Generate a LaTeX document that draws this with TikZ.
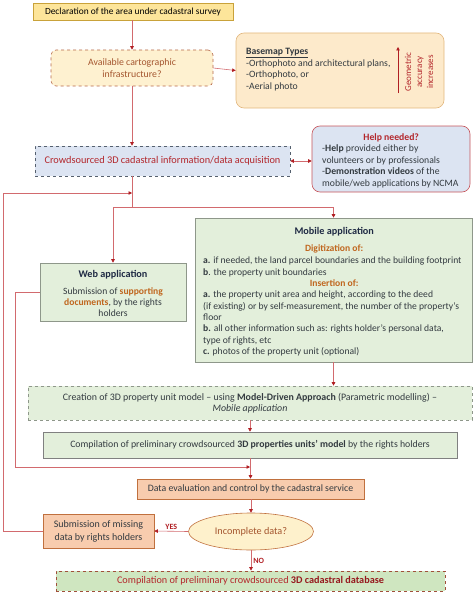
\documentclass[tikz,border=0pt]{standalone}
\usepackage{fontspec}
\setmainfont{Carlito}
\usetikzlibrary{arrows.meta,shapes.geometric,calc}
\definecolor{lineC}{HTML}{D26A6E}
\definecolor{tipC}{HTML}{B01E23}
\definecolor{declF}{HTML}{FDE59A}
\definecolor{declD}{HTML}{C9A23A}
\definecolor{avF}{HTML}{FEF1D0}
\definecolor{avD}{HTML}{B5684A}
\definecolor{avT}{HTML}{A4552E}
\definecolor{bmF}{HTML}{FDEACB}
\definecolor{bmD}{HTML}{E2B77E}
\definecolor{blF}{HTML}{DCE4F2}
\definecolor{blD}{HTML}{55606E}
\definecolor{hpD}{HTML}{C7545A}
\definecolor{redT}{HTML}{B3262B}
\definecolor{grF}{HTML}{E3EFDB}
\definecolor{grD}{HTML}{8E978A}
\definecolor{navy}{HTML}{1F2A44}
\definecolor{brT}{HTML}{C0661E}
\definecolor{txt}{HTML}{333A40}
\definecolor{saF}{HTML}{F8CCAE}
\definecolor{saD}{HTML}{C0703E}
\definecolor{elF}{HTML}{FEF1CC}
\definecolor{fnF}{HTML}{CFE6C0}
\definecolor{fnD}{HTML}{A0503A}
\begin{document}
\begin{tikzpicture}[x=1pt,y=-1pt,
  every node/.style={font=\fontsize{9.8}{11.3}\selectfont, text=txt, inner sep=2pt},
  conn/.style={draw=lineC, line width=0.6pt, -{Triangle[length=3.5pt,width=3.5pt,color=tipC]}},
  plain/.style={draw=lineC, line width=0.6pt},
  declbox/.style={draw=declD, fill=declF, line width=0.6pt},
  avbox/.style={draw=avD, fill=avF, line width=0.6pt, dashed, rounded corners=5pt},
  bmbox/.style={draw=bmD, fill=bmF, line width=0.6pt, rounded corners=8pt},
  blbox/.style={draw=blD, fill=blF, line width=0.6pt, dashed},
  hpbox/.style={draw=hpD, fill=blF, line width=0.6pt, rounded corners=8pt},
  grbox/.style={draw=grD, fill=grF, line width=0.6pt},
  sabox/.style={draw=saD, fill=saF, line width=0.6pt},
  fnbox/.style={draw=fnD, fill=fnF, line width=0.7pt, dashed},
  lbl/.style={font=\fontsize{8}{9}\selectfont\bfseries, text=tipC}
]
\useasboundingbox (0,0) rectangle (474,594);

% nodes
\node[declbox, minimum width=200pt, minimum height=17pt, font=\fontsize{9.4}{11}\selectfont] (decl) at (133,11.5)
  {\textcolor{black}{Declaration of the area under cadastral survey}};
\node[avbox, minimum width=162pt, minimum height=36pt, align=center, text=avT, font=\fontsize{9.8}{12}\selectfont] (avail) at (132,68)
  {Available cartographic\\infrastructure?};
\node[bmbox, minimum width=208pt, minimum height=75pt] (basemap) at (340,70.5) {};
\node[anchor=north west, align=left, inner sep=0pt, font=\fontsize{9.7}{11.7}\selectfont] (bmtext) at (246,48)
  {\underline{\textbf{Basemap Types}}\\-Orthophoto and architectural plans,\\-Orthophoto, or\\-Aerial photo};
\coordinate (gb) at (398,93);
\coordinate (gt) at (398,47);
\draw[draw=tipC, line width=0.7pt, -{Triangle[length=3.5pt,width=3.5pt,color=tipC]}] (gb) -- (gt);
\node[rotate=90, align=center, text=redT, font=\fontsize{9}{11}\selectfont] (geo) at (419,72)
  {Geometric\\accuracy\\increases};

\node[blbox, minimum width=255pt, minimum height=30pt, text=redT, font=\fontsize{10.3}{12}\selectfont] (crowd) at (162.5,161)
  {Crowdsourced 3D cadastral information/data acquisition};
\node[hpbox, minimum width=158pt, minimum height=66pt] (help) at (391,159) {};
\node[anchor=north west, align=left, inner sep=0pt, font=\fontsize{9.7}{11.5}\selectfont] (hptext) at (322,133)
  {\makebox[138pt][c]{\textcolor{redT}{\textbf{Help needed?}}}\\
   -\textbf{Help} provided either by\\volunteers or by professionals\\
   -\textbf{Demonstration videos} of the\\mobile/web applications by NCMA};

\node[grbox, minimum width=146pt, minimum height=58pt] (web) at (113,292) {};
\node[align=center, inner sep=0pt, font=\fontsize{9.6}{11}\selectfont] (webtext) at (113,293)
  {\textcolor{navy}{\fontsize{10.2}{11}\selectfont\textbf{Web application}}\\[6pt]
   Submission of \textcolor{brT}{\textbf{supporting}}\\\textcolor{brT}{\textbf{documents}}, by the rights\\holders};

\node[grbox, minimum width=277pt, minimum height=144pt] (mobile) at (333.5,290) {};
\node[anchor=north west, align=left, inner sep=0pt, font=\fontsize{9.6}{11.3}\selectfont] (mobtext) at (203,227)
  {\makebox[262pt][c]{\textcolor{navy}{\fontsize{10.2}{11}\selectfont\textbf{Mobile application}}}\\[5.5pt]
   \makebox[262pt][c]{\textcolor{brT}{\textbf{Digitization of:}}}\\[1.5pt]
   \textbf{a.} if needed, the land parcel boundaries and the building footprint\\
   \textbf{b}. the property unit boundaries\\
   \makebox[262pt][c]{\textcolor{brT}{\textbf{Insertion of:}}}\\
   \textbf{a.} the property unit area and height, according to the deed\\
   (if existing) or by self-measurement, the number of the property's\\
   floor\\
   \textbf{b.} all other information such as: rights holder's personal data,\\
   type of rights, etc\\
   \textbf{c.} photos of the property unit (optional)};

\node[grbox, dashed, minimum width=444pt, minimum height=34pt, align=center, font=\fontsize{9.9}{11.3}\selectfont] (creation) at (250,403)
  {Creation of 3D property unit model -- using \textbf{Model-Driven Approach} (Parametric modelling) --\\\textit{Mobile application}};
\node[grbox, draw=gray, minimum width=414pt, minimum height=26pt] (compil) at (250,445)
  {Compilation of preliminary crowdsourced \textbf{3D properties units' model} by the rights holders};
\node[sabox, minimum width=227pt, minimum height=20pt] (eval) at (250.5,489)
  {Data evaluation and control by the cadastral service};
\node[ellipse, draw=saD, fill=elF, line width=0.6pt, minimum width=125pt, minimum height=37pt, inner sep=0pt, text=avT, font=\fontsize{10.2}{12}\selectfont] (inc) at (251,531.5)
  {Incomplete data?};
\node[sabox, minimum width=111pt, minimum height=34pt, align=center, font=\fontsize{10}{13}\selectfont] (subm) at (98.5,531)
  {Submission of missing\\data by rights holders};
\node[fnbox, minimum width=389pt, minimum height=20pt, text=redT, font=\fontsize{10.2}{12}\selectfont] (final) at (250.5,581)
  {Compilation of preliminary crowdsourced \textcolor{tipC!85!black}{\textbf{3D cadastral database}}};

% connectors
\coordinate (j) at (132,207);
\coordinate (lp) at (3,193);
\coordinate (wl) at (15,292);
\coordinate (m) at (250,467);
\draw[conn] (decl.south -| avail.north) -- (avail.north);
\draw[conn] (avail.east) -- (basemap.west);
\draw[conn] (avail.south) -- (avail.south |- crowd.north);
\draw[draw=lineC, line width=0.6pt, {Triangle[length=3.5pt,width=3.5pt,color=tipC]}-{Triangle[length=3.5pt,width=3.5pt,color=tipC]}] (crowd.east) -- (crowd.east -| help.west);
\draw[plain] (crowd.south -| j) -- (j);
\draw[conn] (j) -| (web.north);
\draw[conn] (j) -| (mobile.north);
\draw[conn] (subm.west) -| (lp) -- (lp -| j);
\draw[conn] (web.west) -- (wl) |- (m);
\draw[conn] (mobile.south) -- (mobile.south |- creation.north);
\draw[conn] (creation.south -| compil.north) -- (compil.north);
\draw[conn] (compil.south -| eval.north) -- (eval.north);
\draw[conn] (eval.south -| inc.north) -- (inc.north);
\draw[conn] (inc.west) -- node[lbl, above, yshift=-1pt] {YES} (subm.east);
\draw[conn] (inc.south) -- node[lbl, right] {NO} (inc.south |- final.north);
\end{tikzpicture}
\end{document}
